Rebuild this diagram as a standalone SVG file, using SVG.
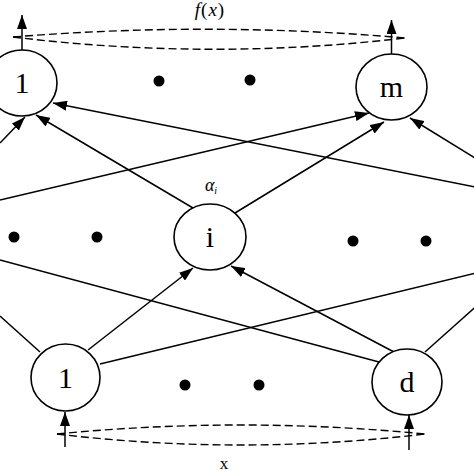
<svg xmlns="http://www.w3.org/2000/svg" width="474" height="474" viewBox="0 0 474 474">
<style>
.node ellipse{fill:#fff;stroke:#000;stroke-width:1.6}
.node text{font-family:"Liberation Serif",serif;font-size:30px;text-anchor:middle;fill:#000}
.edge{stroke:#000;stroke-width:1.5;fill:none}
.arr{marker-end:url(#ah)}
.dash{stroke:#000;stroke-width:1.4;fill:none;stroke-dasharray:8 4}
.dot{fill:#000}
.lbl{font-family:"Liberation Serif",serif;fill:#000;text-anchor:middle}
</style>
<defs>
<marker id="ah" viewBox="0 0 14 10" refX="14" refY="5" markerWidth="14" markerHeight="10" markerUnits="userSpaceOnUse" orient="auto">
<path d="M0,0 L14,5 L0,10 z" fill="#000"/>
</marker>
</defs>
<rect width="474" height="474" fill="#fff"/>
<g id="connectors">
<line class="edge arr" x1="0" y1="143" x2="25" y2="117"/>
<line class="edge arr" x1="193" y1="208" x2="36" y2="115"/>
<line class="edge arr" x1="480" y1="188" x2="53" y2="103"/>
<line class="edge arr" x1="0" y1="200" x2="369" y2="113"/>
<line class="edge arr" x1="235" y1="213" x2="384" y2="122"/>
<line class="edge arr" x1="480" y1="161" x2="410" y2="118"/>
<line class="edge arr" x1="88" y1="350" x2="193" y2="268"/>
<line class="edge arr" x1="394" y1="352" x2="231" y2="266"/>
<line class="edge" x1="0" y1="260" x2="379" y2="362"/>
<line class="edge" x1="0" y1="316" x2="40" y2="352"/>
<line class="edge" x1="100" y1="364" x2="480" y2="272"/>
<line class="edge" x1="425" y1="352" x2="480" y2="303"/>
<line class="edge arr" x1="22" y1="50" x2="22" y2="15"/>
<line class="edge arr" x1="391.5" y1="54" x2="391.5" y2="20"/>
<line class="edge arr" x1="65" y1="447" x2="65" y2="412"/>
<line class="edge arr" x1="409" y1="450" x2="409" y2="415"/>
<path class="dash" d="M13 37 Q210 21 405 38"/>
<path class="dash" d="M13 37 Q210 61 405 38"/>
<path class="dash" d="M57 434 Q240 416 425 434"/>
<path class="dash" d="M57 434 Q240 456 425 434"/>
</g>
<g id="node-out1" class="node"><ellipse cx="22" cy="83" rx="35" ry="33"/><text x="22" y="93">1</text></g>
<g id="node-outm" class="node"><ellipse cx="391.5" cy="87" rx="35.5" ry="33"/><text x="391.5" y="97">m</text></g>
<g id="node-hidi" class="node"><ellipse cx="210" cy="237" rx="36" ry="33"/><text x="210" y="247">i</text></g>
<g id="node-in1" class="node"><ellipse cx="65.5" cy="377.5" rx="34.5" ry="33.5"/><text x="65.5" y="388">1</text></g>
<g id="node-ind" class="node"><ellipse cx="407" cy="382" rx="35" ry="33"/><text x="407" y="392">d</text></g>
<g id="dots">
<circle class="dot" cx="159" cy="81" r="5.5"/>
<circle class="dot" cx="250" cy="80" r="5.5"/>
<circle class="dot" cx="14" cy="237" r="5.5"/>
<circle class="dot" cx="97" cy="237" r="5.5"/>
<circle class="dot" cx="353" cy="241" r="5.5"/>
<circle class="dot" cx="426" cy="241" r="5.5"/>
<circle class="dot" cx="185" cy="385" r="5.5"/>
<circle class="dot" cx="259" cy="385" r="5.5"/>
</g>
<g id="labels">
<text class="lbl" x="210" y="16" font-size="19" letter-spacing="1"><tspan font-style="italic">f</tspan>(<tspan font-style="italic">x</tspan>)</text>
<text class="lbl" x="211" y="191" font-size="18" font-style="italic">α<tspan font-size="10" dy="3">i</tspan></text>
<text class="lbl" x="224" y="469" font-size="17">x</text>
</g>
</svg>
